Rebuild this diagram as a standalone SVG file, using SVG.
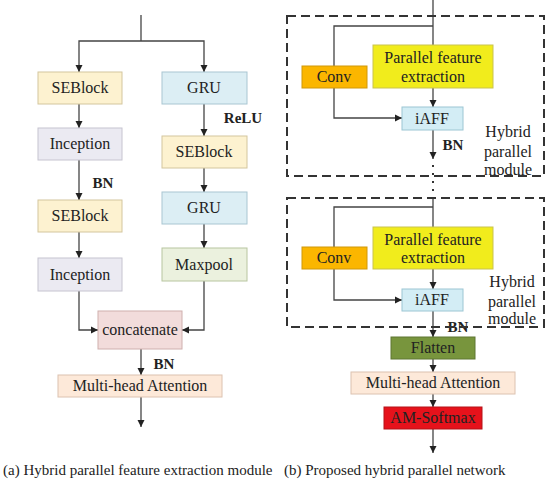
<svg xmlns="http://www.w3.org/2000/svg" width="550" height="487" viewBox="0 0 550 487">
<defs>
<marker id="ah" markerWidth="8" markerHeight="8" refX="7" refY="4" orient="auto" markerUnits="userSpaceOnUse">
<path d="M0,0.5 L7,4 L0,7.5 Z" fill="#222"/>
</marker>
<style>
text{font-family:'Liberation Serif','DejaVu Serif',serif}
.t{font-size:16px;fill:#222;text-anchor:middle}
.b{font-size:15px;font-weight:bold;fill:#222;text-anchor:middle}
.cap{font-size:15px;fill:#222}
.ln{fill:none;stroke:#444;stroke-width:1.3}
.ar{fill:none;stroke:#444;stroke-width:1.3;marker-end:url(#ah)}
.dash{fill:none;stroke:#333;stroke-width:2;stroke-dasharray:9,5}
.se{fill:#fdf2d0;stroke:#d3c69e;stroke-width:1}
.gru{fill:#dceef4;stroke:#a9c6d2;stroke-width:1}
.inc{fill:#ebeaf2;stroke:#c6c4d0;stroke-width:1}
.mp{fill:#ebf1de;stroke:#b8c5a0;stroke-width:1}
.cc{fill:#f2dcdb;stroke:#cfb0ae;stroke-width:1}
.mha{fill:#fde9d9;stroke:#dcc2b0;stroke-width:1}
.conv{fill:#fbb600;stroke:#d0980a;stroke-width:1}
.pfe{fill:#f1ec1c;stroke:#c9c34e;stroke-width:1}
.iaff{fill:#d3edf5;stroke:#9cc6d3;stroke-width:1}
.fl{fill:#78953d;stroke:#5e7632;stroke-width:1}
.am{fill:#e6121b;stroke:#b51219;stroke-width:1}
</style>
</defs>
<rect width="550" height="487" fill="#fff"/>

<g id="connectors">
<path class="ln" d="M141,15 V41"/>
<path class="ar" d="M141,41 H79 V72"/>
<path class="ar" d="M141,41 H204 V72"/>
<path class="ar" d="M79,104 V128"/>
<path class="ar" d="M79,160 V200"/>
<path class="ar" d="M79,232 V258"/>
<path class="ar" d="M204,104 V136"/>
<path class="ar" d="M204,168 V192"/>
<path class="ar" d="M204,224 V248"/>
<path class="ar" d="M79,291 V330 H98"/>
<path class="ar" d="M204,281 V330 H182"/>
<path class="ar" d="M141,349 V375"/>
<path class="ar" d="M141,397 V427"/>
<path class="ln" d="M433,0 V45"/>
<path class="ln" d="M433,26 H334 V66"/>
<path class="ar" d="M433,88 V107"/>
<path class="ar" d="M334,88 V118 H402"/>
<path class="ar" d="M433,130 V159"/>
<path fill="none" stroke="#333" stroke-width="2" stroke-dasharray="2,6" d="M433,165 V196"/>
<path class="ln" d="M433,198 V227"/>
<path class="ln" d="M433,207 H334 V247"/>
<path class="ar" d="M433,269 V289"/>
<path class="ar" d="M334,269 V300 H402"/>
<path class="ar" d="M433,311 V337"/>
<path class="ar" d="M433,359 V372"/>
<path class="ar" d="M433,394 V407"/>
<path class="ar" d="M433,429 V453"/>
</g>

<g id="labels" font-family="Liberation Serif, DejaVu Serif, serif">
<text class="b" x="243" y="123">ReLU</text>
<text class="b" x="103" y="188">BN</text>
<text class="b" x="164" y="369">BN</text>
<text class="b" x="453" y="150">BN</text>
<text class="b" x="458" y="332">BN</text>
</g>

<g id="module1" font-family="Liberation Serif, DejaVu Serif, serif">
<rect class="dash" x="287" y="16" width="257" height="160"/>
<text class="t" x="508" y="137">Hybrid</text>
<text class="t" x="508" y="157">parallel</text>
<text class="t" x="508" y="175">module</text>
</g>
<g id="module2" font-family="Liberation Serif, DejaVu Serif, serif">
<rect class="dash" x="287" y="198" width="257" height="129"/>
<text class="t" x="512" y="287">Hybrid</text>
<text class="t" x="512" y="307">parallel</text>
<text class="t" x="512" y="324">module</text>
</g>

<g id="nodes" font-family="Liberation Serif, DejaVu Serif, serif">
<g id="seblock1"><rect class="se" x="38" y="72" width="84" height="32"/><text class="t" x="80" y="93">SEBlock</text></g>
<g id="inception1"><rect class="inc" x="38" y="128" width="84" height="32"/><text class="t" x="80" y="149">Inception</text></g>
<g id="seblock2"><rect class="se" x="38" y="200" width="84" height="32"/><text class="t" x="80" y="221">SEBlock</text></g>
<g id="inception2"><rect class="inc" x="38" y="258" width="84" height="33"/><text class="t" x="80" y="280">Inception</text></g>
<g id="gru1"><rect class="gru" x="162" y="72" width="85" height="32"/><text class="t" x="204" y="93">GRU</text></g>
<g id="seblock3"><rect class="se" x="162" y="136" width="85" height="32"/><text class="t" x="204" y="157">SEBlock</text></g>
<g id="gru2"><rect class="gru" x="162" y="192" width="85" height="32"/><text class="t" x="204" y="213">GRU</text></g>
<g id="maxpool"><rect class="mp" x="162" y="248" width="85" height="33"/><text class="t" x="204" y="270">Maxpool</text></g>
<g id="concatenate"><rect class="cc" x="98" y="311" width="84" height="38"/><text class="t" x="140" y="335">concatenate</text></g>
<g id="mha1"><rect class="mha" x="58" y="375" width="164" height="22"/><text class="t" x="140" y="391">Multi-head Attention</text></g>
<g id="conv1"><rect class="conv" x="302" y="66" width="65" height="22"/><text class="t" x="334" y="82">Conv</text></g>
<g id="pfe1"><rect class="pfe" x="373" y="45" width="120" height="43"/><text class="t" x="433" y="63">Parallel feature</text><text class="t" x="433" y="82">extraction</text></g>
<g id="iaff1"><rect class="iaff" x="402" y="107" width="61" height="23"/><text class="t" x="432" y="124">iAFF</text></g>
<g id="conv2"><rect class="conv" x="302" y="247" width="65" height="22"/><text class="t" x="334" y="263">Conv</text></g>
<g id="pfe2"><rect class="pfe" x="373" y="227" width="120" height="42"/><text class="t" x="433" y="245">Parallel feature</text><text class="t" x="433" y="263">extraction</text></g>
<g id="iaff2"><rect class="iaff" x="402" y="289" width="61" height="22"/><text class="t" x="432" y="305">iAFF</text></g>
<g id="flatten"><rect class="fl" x="391" y="337" width="84" height="22"/><text class="t" x="433" y="353">Flatten</text></g>
<g id="mha2"><rect class="mha" x="351" y="372" width="164" height="22"/><text class="t" x="433" y="388">Multi-head Attention</text></g>
<g id="amsoftmax"><rect class="am" x="384" y="407" width="98" height="22"/><text class="t" x="433" y="423">AM-Softmax</text></g>
</g>

<g id="captions" font-family="Liberation Serif, DejaVu Serif, serif">
<text class="cap" x="3" y="475">(a) Hybrid parallel feature extraction module</text>
<text class="cap" x="284" y="475">(b) Proposed hybrid parallel network</text>
</g>
</svg>
